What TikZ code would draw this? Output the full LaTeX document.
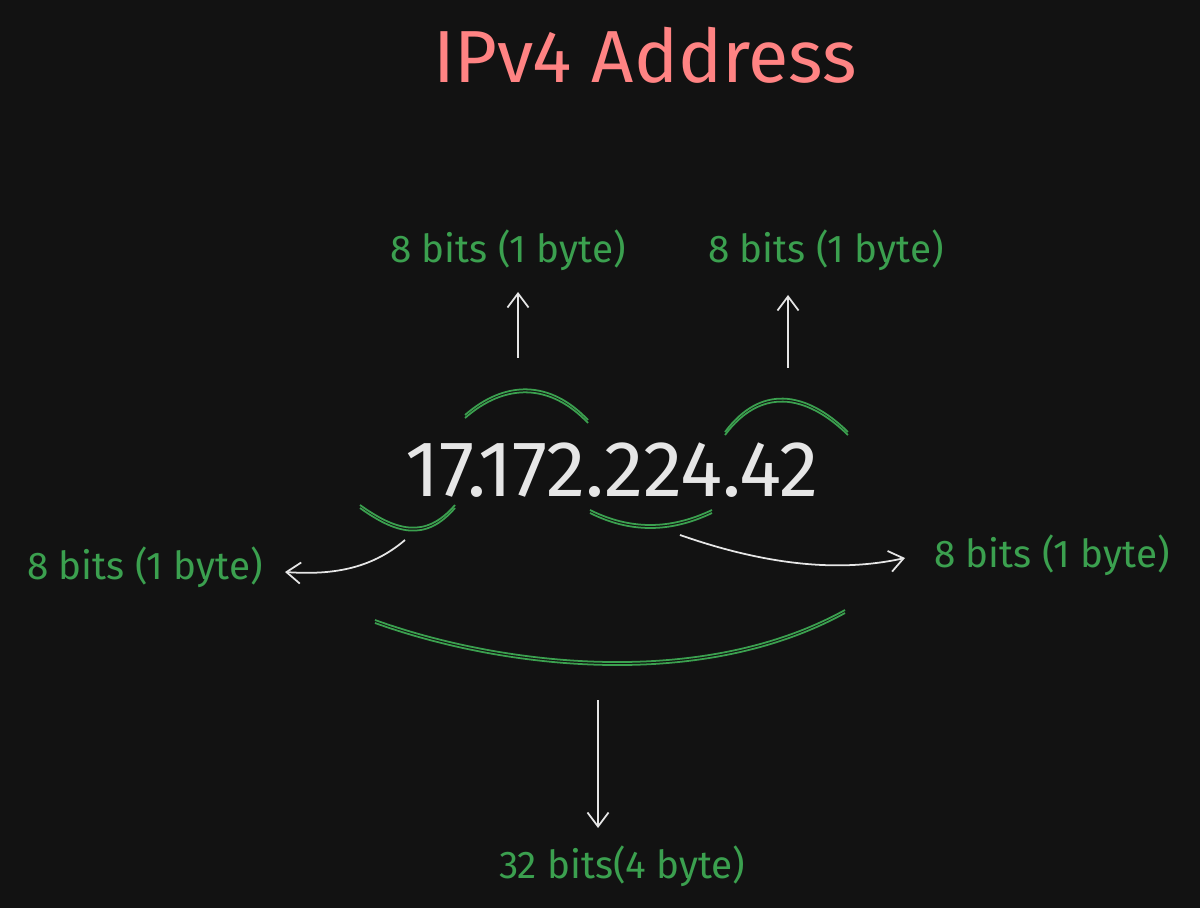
\documentclass[tikz,border=0pt]{standalone}
\usepackage{fontspec}
\setmainfont{Fira Sans}
\usetikzlibrary{arrows.meta}
\definecolor{bg}{HTML}{121212}
\definecolor{salmon}{HTML}{FF8383}
\definecolor{grn}{HTML}{3BA04F}
\definecolor{wht}{HTML}{E6E6E6}
\begin{document}
\begin{tikzpicture}[x=0.02cm,y=-0.02cm,
  lbl/.style={text=grn,font=\fontsize{22}{26}\selectfont},
  brace/.style={draw=grn,line width=1pt},
  arr/.style={draw=wht,line width=1pt,-{Straight Barb[length=8pt,width=12pt]}}]
\fill[bg] (0,0) rectangle (1200,908);
\useasboundingbox (0,0) rectangle (1200,908);
\node (title) at (645,55) {\textcolor{salmon}{\fontsize{42}{48}\selectfont IPv4 Address}};
\node (ip) at (612,470) {\textcolor{wht}{\fontsize{45}{52}\selectfont 17.172.224.42}};
\node[lbl] (l1) at (508,250) {8 bits (1 byte)};
\node[lbl] (l2) at (826,250) {8 bits (1 byte)};
\node[lbl] (l3) at (145,567) {8 bits (1 byte)};
\node[lbl] (l4) at (1052,555) {8 bits (1 byte)};
\node[lbl] (l5) at (622,866) {32 bits(4 byte)};
\foreach \d in {0,3}{
\draw[brace] (465,415+\d) .. controls (505,380+\d) and (550,380+\d) .. (588,420+\d);
\draw[brace] (725,432+\d) .. controls (760,385+\d) and (805,390+\d) .. (848,432+\d);
\draw[brace] (360,505+\d) .. controls (395,530+\d) and (425,540+\d) .. (455,505+\d);
\draw[brace] (590,510+\d) .. controls (630,530+\d) and (670,530+\d) .. (712,510+\d);
\draw[brace] (375,620+\d) .. controls (500,665+\d) and (700,690+\d) .. (845,610+\d);
}
\coordinate (a1) at (518,358); \coordinate (b1) at (518,292);
\coordinate (a2) at (788,368); \coordinate (b2) at (788,295);
\coordinate (a3) at (405,540); \coordinate (b3) at (285,572);
\coordinate (a4) at (680,535); \coordinate (b4) at (905,558);
\coordinate (a5) at (598,700); \coordinate (b5) at (598,828);
\draw[arr] (a1) -- (b1);
\draw[arr] (a2) -- (b2);
\draw[arr] (a3) .. controls (370,570) and (330,575) .. (b3);
\draw[arr] (a4) .. controls (780,570) and (850,570) .. (b4);
\draw[arr] (a5) -- (b5);
\end{tikzpicture}
\end{document}
